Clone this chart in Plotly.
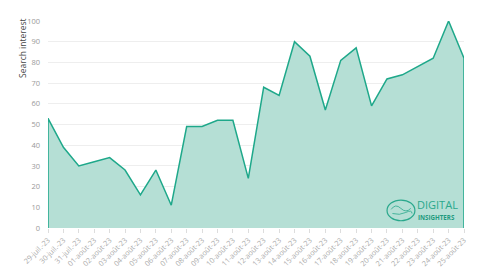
import plotly.graph_objects as go

dates = ["29-juil.-23", "30-juil.-23", "31-juil.-23", "01-août-23", "02-août-23", "03-août-23",
         "04-août-23", "05-août-23", "06-août-23", "07-août-23", "08-août-23", "09-août-23",
         "10-août-23", "11-août-23", "12-août-23", "13-août-23", "14-août-23", "15-août-23",
         "16-août-23", "17-août-23", "18-août-23", "19-août-23", "20-août-23", "21-août-23",
         "22-août-23", "23-août-23", "24-août-23", "25-août-23"]
values = [53, 39, 30, 32, 34, 28, 16, 28, 11, 49, 49, 52, 52, 24, 68, 64, 90, 83, 57, 81,
          87, 59, 72, 74, 78, 82, 100, 82]
y_ticks = [0, 10, 20, 30, 40, 50, 60, 70, 80, 90, 100]

idx = list(range(len(dates)))
xs = [idx[0]] + idx + [idx[-1]]
ys = [0] + values + [0]

LINE = "#1ea88a"
FILL = "#b5dfd5"
LOGO = "#2aa88c"

fig = go.Figure()
fig.add_trace(go.Scatter(x=xs, y=ys, mode="lines", fill="tozeroy",
                         line=dict(color=LINE, width=1.5), fillcolor=FILL,
                         hoverinfo="skip", showlegend=False))

fig.update_layout(
    width=480, height=276,
    margin=dict(l=48, r=16, t=21, b=48),
    paper_bgcolor="white", plot_bgcolor="white",
    font=dict(family="Open Sans", color="#999999", size=7),
    showlegend=False,
    xaxis=dict(range=[0, len(dates) - 1], tickmode="array", tickvals=idx, ticktext=dates,
               tickangle=-45, tickfont=dict(size=7.3, color="#aaaaaa"), automargin=False,
               showgrid=False, zeroline=False, showline=False,
               ticks="outside", ticklen=4, tickcolor="#dddddd"),
    yaxis=dict(range=[0, 100], tickvals=y_ticks, tickfont=dict(size=7.5, color="#999999"),
               showgrid=True, gridcolor="#eeeeee", gridwidth=1, zeroline=False,
               ticks="", ticklabelstandoff=7, automargin=False),
)

fig.add_annotation(x=(22 - 48) / 416, y=(228 - 48) / 207, xref="paper", yref="paper",
                   xanchor="center", yanchor="middle", text="Search interest",
                   showarrow=False, textangle=-90,
                   font=dict(family="Open Sans", size=8.5, color="#444444"))

# logo
fig.add_annotation(x=0.885, y=0.112, xref="paper", yref="paper", xanchor="left", yanchor="middle",
                   text="DIGITAL", showarrow=False, borderpad=0,
                   font=dict(family="Open Sans", size=11, color=LOGO))
fig.add_annotation(x=0.886, y=0.052, xref="paper", yref="paper", xanchor="left", yanchor="middle",
                   text="<b>INSIGHTERS</b>", showarrow=False, borderpad=0,
                   font=dict(family="Open Sans", size=6.2, color="#1f9a7e"))
fig.add_shape(type="circle", xref="paper", yref="paper", x0=0.815, x1=0.882, y0=0.035, y1=0.135,
              line=dict(color=LOGO, width=1.2))
fig.add_shape(type="path", xref="paper", yref="paper",
              path="M 0.825,0.09 Q 0.835,0.12 0.848,0.095 T 0.872,0.095 M 0.828,0.07 Q 0.845,0.06 0.86,0.075 T 0.875,0.07",
              line=dict(color=LOGO, width=0.8))

fig.write_html("out.html")
